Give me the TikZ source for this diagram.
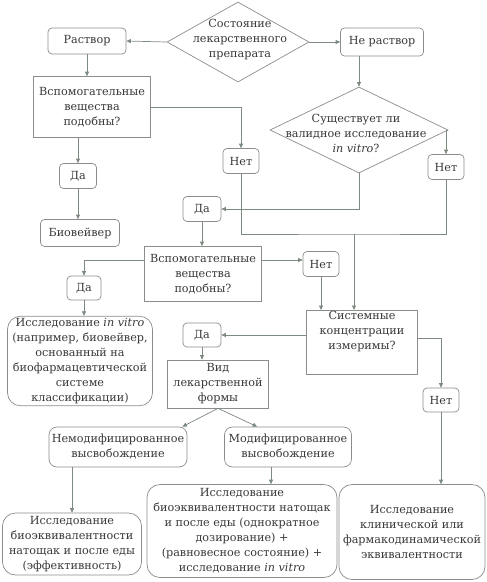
\documentclass[tikz,border=0pt]{standalone}
\usepackage{fontspec}
\setmainfont{DejaVu Serif}
\newfontfamily\bookfont{DejaVu Serif}
\usetikzlibrary{arrows.meta,shapes.geometric}
\definecolor{Ink}{HTML}{383838}
\definecolor{Frame}{HTML}{8C8C8C}
\definecolor{Wire}{HTML}{7E8A7F}

\tikzset{
  txt/.style={text=Ink,font=\bookfont\fontsize{11.2}{15}\selectfont,align=center},
  yesno/.style={txt,draw=Frame,line width=.7pt,rounded corners=4pt,inner sep=2pt},
  qbox/.style={txt,draw=Frame,line width=.7pt,inner sep=2pt},
  bigbox/.style={txt,draw=Frame,line width=.7pt,rounded corners=13pt,inner sep=2pt},
  decide/.style={diamond,draw=Frame,line width=.7pt,inner sep=0pt},
  link/.style={draw=Wire,line width=.7pt},
  flow/.style={link,-{Triangle[length=4.5pt,width=4pt]}}
}

\begin{document}
\begin{tikzpicture}[x=1pt,y=-1pt]
  \useasboundingbox (0,0) rectangle (487,582);

  % top level
  \node[decide,minimum width=142,minimum height=80,
    label={[txt,xshift=2pt,yshift=2pt]center:{Состояние\\лекарственного\\препарата}}] (state) at (238,42) {};
  \node[yesno,minimum width=78,minimum height=26] (sol) at (87,41) {Раствор};
  \node[yesno,minimum width=83,minimum height=28] (nsol) at (382,42) {Не раствор};

  % left branch
  \node[qbox,minimum width=117,minimum height=61] (excA) at (92,107) {Вспомогательные\\вещества\\подобны?};
  \node[yesno,minimum width=37,minimum height=25] (yesA) at (78,176) {Да};
  \node[yesno,minimum width=79,minimum height=27] (biow) at (80,233) {Биовейвер};
  \node[yesno,minimum width=36,minimum height=25] (noA) at (241,161) {Нет};

  % right branch
  \node[decide,minimum width=178,minimum height=86,
    label={[txt,xshift=-3pt,yshift=-3pt]center:{Существует ли\\валидное исследование\\\textit{in vitro}?}}] (vitroQ) at (359,130) {};
  \node[yesno,minimum width=36,minimum height=25] (noB) at (446,167) {Нет};
  \coordinate (join) at (354,234);

  % middle
  \node[yesno,minimum width=38,minimum height=25] (yesB) at (202,209) {Да};
  \node[qbox,minimum width=117,minimum height=55] (excB) at (203,274) {Вспомогательные\\вещества\\подобны?};
  \node[yesno,minimum width=36,minimum height=25] (noC) at (321,264) {Нет};
  \node[yesno,minimum width=34,minimum height=24] (yesC) at (84,288) {Да};
  \node[bigbox,minimum width=145,minimum height=87] (vitro) at (80,361)
    {Исследование \textit{in vitro}\\(например, биовейвер,\\основанный на\\биофармацевтической\\системе\\классификации)};

  % systemic concentrations
  \node[qbox,anchor=north,minimum width=111,text depth=24pt,inner ysep=1pt] (sysc) at (362,310) {Системные\\концентрации\\измеримы?};
  \node[yesno,minimum width=38,minimum height=24] (yesD) at (202,335) {Да};
  \node[yesno,minimum width=36,minimum height=24] (noD) at (441,400) {Нет};
  \node[qbox,minimum width=101,minimum height=48] (form) at (218,384) {Вид\\лекарственной\\формы};
  \node[yesno,rounded corners=8pt,minimum width=138,minimum height=40] (unmod) at (118,447) {Немодифицированное\\высвобождение};
  \node[yesno,rounded corners=8pt,minimum width=127,minimum height=40] (mod) at (288,447) {Модифицированное\\высвобождение};

  % outcomes
  \node[bigbox,minimum width=139,minimum height=62] (beA) at (72,544)
    {Исследование\\биоэквивалентности\\натощак и после еды\\(эффективность)};
  \node[bigbox,minimum width=190,minimum height=93] (beB) at (242,531)
    {Исследование\\биоэквивалентности натощак\\и после еды (однократное\\дозирование) +\\(равновесное состояние) +\\исследование \textit{in vitro}};
  \node[bigbox,minimum width=146,minimum height=95] (clin) at (412,532)
    {Исследование\\клинической или\\фармакодинамической\\эквивалентности};

  % connectors
  \draw[flow] (state.west) -- (sol.east);
  \draw[flow] (state.east) -- (nsol.west);
  \draw[flow] (sol.south) -- (sol.south |- excA.north);
  \draw[flow] (excA.east) -| (noA.north);
  \draw[flow] (yesA.north |- excA.south) -- (yesA.north);
  \draw[flow] (yesA.south) -- (yesA.south |- biow.north);
  \draw[flow] (vitroQ.north |- nsol.south) -- (vitroQ.north);
  \draw[flow] (vitroQ.east) -| (noB.north);
  \draw[flow] (vitroQ.south) |- (yesB.east);
  \draw[link] (noA.south) |- (join) -| (noB.south);
  \draw[flow] (join) -- (join |- sysc.north);
  \draw[flow] (yesB.south) -- (yesB.south |- excB.north);
  \draw[flow] ([yshift=14pt]excB.east) -- ([yshift=14pt]excB.east -| noC.west);
  \draw[flow] ([yshift=14pt]excB.west) -| (yesC.north);
  \draw[flow] (yesC.south) -- (yesC.south |- vitro.north);
  \draw[flow] (noC.south) -- (noC.south |- sysc.north);
  \draw[flow] (sysc.west |- yesD.east) -- (yesD.east);
  \draw[flow] ([yshift=4pt]sysc.east) -| (noD.north);
  \draw[flow] (noD.south) -- (noD.south |- clin.north);
  \draw[flow] (yesD.south) -- (yesD.south |- form.north);
  \draw[flow] (form.south) -- ([xshift=-5pt]unmod.north east);
  \draw[flow] (form.south) -- ([xshift=33pt]mod.north west);
  \draw[flow] (beA.north |- unmod.south) -- (beA.north);
  \draw[flow] ([xshift=-17pt]mod.south) -- ([xshift=-17pt]mod.south |- beB.north);
\end{tikzpicture}
\end{document}
